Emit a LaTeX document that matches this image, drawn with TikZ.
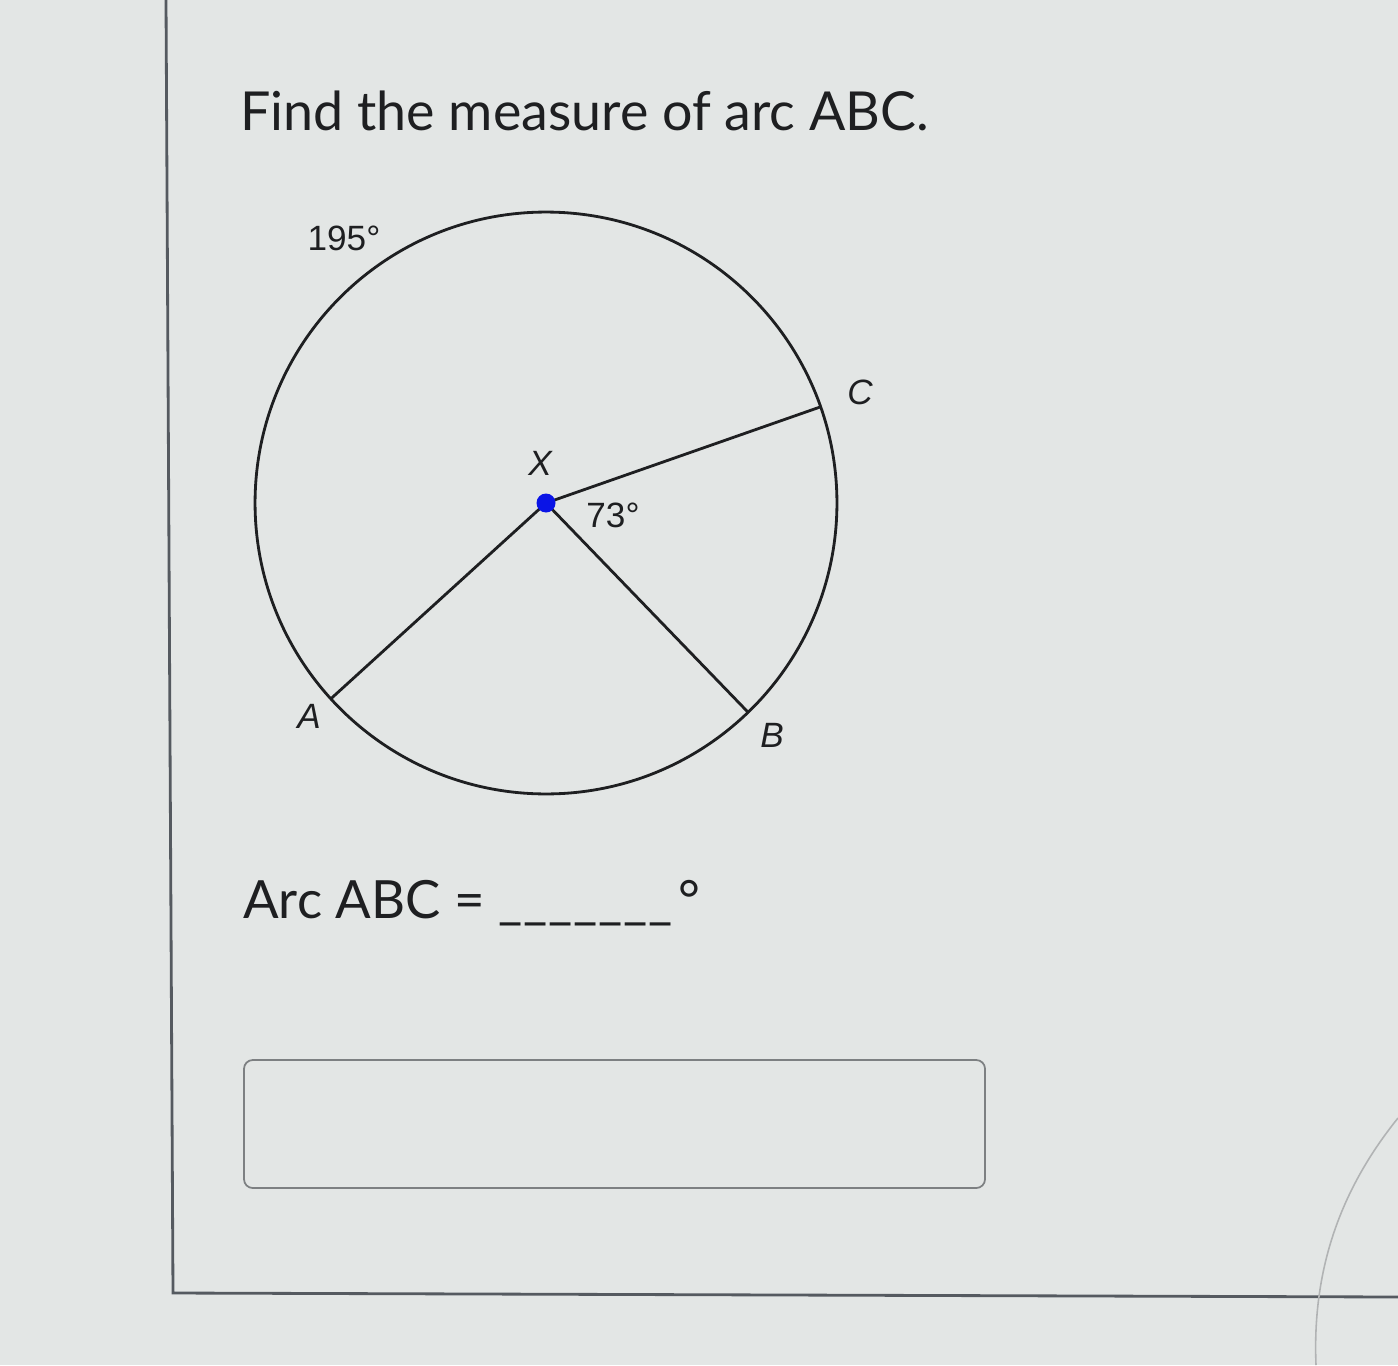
\documentclass[tikz,border=0pt]{standalone}
\usepackage{fontspec}
\setmainfont{Lato}
\newfontfamily\lblfont{Liberation Sans}
\usetikzlibrary{calc}
\definecolor{bgcol}{RGB}{227,230,229}
\definecolor{inkcol}{RGB}{30,31,33}
\definecolor{framecol}{RGB}{85,90,96}
\definecolor{boxcol}{RGB}{125,128,130}
\definecolor{dotcol}{RGB}{10,20,230}
\tikzset{
  geom/.style={draw=inkcol, line width=1.6pt},
  lbl/.style={text=inkcol, inner sep=0pt, font=\lblfont\fontsize{20}{24}\selectfont},
  bigtext/.style={text=inkcol, inner sep=0pt, anchor=base west},
}
\begin{document}
\begin{tikzpicture}[x=0.02cm,y=-0.02cm]
\fill[bgcol] (0,0) rectangle (1398,1365);
\useasboundingbox (0,0) rectangle (1398,1365);
% frame
\coordinate (f1) at (166,0);
\coordinate (f2) at (173,1293);
\coordinate (f3) at (1398,1297);
\draw[framecol, line width=1.6pt] (f1) -- (f2) -- (f3);
% faint curve bottom right
\coordinate (g1) at (1398,1118);
\coordinate (g2) at (1316,1365);
\draw[boxcol!60, line width=0.9pt] (g1) .. controls (1340,1190) and (1312,1270) .. (g2);
% title
\node[bigtext, font=\fontsize{30.6}{37}\selectfont] (title) at (240,131) {Find the measure of arc ABC.};
% circle
\coordinate (X) at (546,503);
\draw[geom] (X) circle[radius=5.82cm];
\coordinate (A) at ($(X)+(222.3:5.82cm)$);
\coordinate (B) at ($(X)+(314:5.82cm)$);
\coordinate (C) at ($(X)+(19.3:5.82cm)$);
\draw[geom] (A) -- (X) -- (B);
\draw[geom] (X) -- (C);
\fill[dotcol] (X) circle[radius=0.19cm];
% labels
\node[lbl] (l195) at (344,238) {195°};
\node[lbl] (lC) at (860,392) {\itshape C};
\node[lbl] (lX) at (540,463) {\itshape X};
\node[lbl] (l73) at (613,515) {73°};
\node[lbl] (lA) at (309,716) {\itshape A};
\node[lbl] (lB) at (772,735) {\itshape B};
% answer line
\node[bigtext, font=\fontsize{30}{36}\selectfont] (ans) at (243,918) {Arc ABC = \_\kern0.5pt\_\kern0.5pt\_\kern0.5pt\_\kern0.5pt\_\kern0.5pt\_\kern0.5pt\_\kern3pt°};
% answer box
\draw[boxcol, line width=1pt, rounded corners=5pt] (244,1060) rectangle (985,1188);
\end{tikzpicture}
\end{document}
